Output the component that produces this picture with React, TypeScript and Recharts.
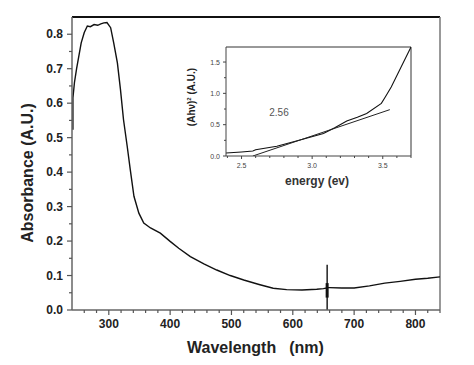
import { ComposedChart, LineChart, Line, XAxis, YAxis, ReferenceLine, Label } from "recharts";

const wavelength = [241.5, 241.5, 244, 247.5, 255, 260, 265, 270, 276, 282, 287, 292, 297, 303, 308, 314, 319, 324, 330, 335, 341, 349, 357, 368, 384, 400, 414, 433, 455, 476, 498, 520, 545, 568, 590, 615, 639, 650, 656, 656, 656, 656, 660, 680, 700, 725, 750, 775, 800, 820, 840];
const absorbance = [0.523, 0.615, 0.66, 0.7, 0.775, 0.805, 0.824, 0.822, 0.828, 0.826, 0.83, 0.833, 0.834, 0.819, 0.775, 0.717, 0.64, 0.552, 0.475, 0.407, 0.33, 0.281, 0.252, 0.238, 0.223, 0.199, 0.179, 0.155, 0.134, 0.116, 0.1, 0.087, 0.074, 0.063, 0.059, 0.058, 0.06, 0.062, 0.064, 0.131, 0.0, 0.065, 0.065, 0.064, 0.064, 0.07, 0.078, 0.083, 0.089, 0.092, 0.096];

const spikeWavelength = [656, 656];
const spikeAbsorbance = [0.036, 0.078];

const energy = [2.39, 2.5, 2.58, 2.6, 2.75, 2.94, 3.08, 3.16, 3.245, 3.32, 3.386, 3.49, 3.52, 3.56, 3.63, 3.7];
const ahv2 = [0.048, 0.065, 0.08, 0.1, 0.155, 0.27, 0.36, 0.45, 0.56, 0.62, 0.68, 0.84, 0.95, 1.1, 1.42, 1.74];

const fitEnergy = [2.58, 3.55];
const fitValue = [0.0, 0.74];

const mainXTicks = [260, 280, 300, 320, 340, 360, 380, 400, 420, 440, 460, 480, 500, 520, 540, 560, 580, 600, 620, 640, 660, 680, 700, 720, 740, 760, 780, 800, 820, 840];
const mainXLabels = [300, 400, 500, 600, 700, 800];
const mainYTicks = [0, 0.05, 0.1, 0.15, 0.2, 0.25, 0.3, 0.35, 0.4, 0.45, 0.5, 0.55, 0.6, 0.65, 0.7, 0.75, 0.8];
const mainYLabels = [0, 0.1, 0.2, 0.3, 0.4, 0.5, 0.6, 0.7, 0.8];

const insetXTicks = [2.4, 2.5, 2.6, 2.7, 2.8, 2.9, 3.0, 3.1, 3.2, 3.3, 3.4, 3.5, 3.6, 3.7];
const insetXLabels = [2.5, 3.0, 3.5];
const insetYTicks = [0, 0.25, 0.5, 0.75, 1.0, 1.25, 1.5];
const insetYLabels = [0, 0.5, 1.0, 1.5];

const spectrum = wavelength.map((w, i) => ({ x: w, y: absorbance[i] }));
const spike = spikeWavelength.map((w, i) => ({ x: w, y: spikeAbsorbance[i] }));
const tauc = energy.map((e, i) => ({ x: e, y: ahv2[i] }));
const fit = fitEnergy.map((e, i) => ({ x: e, y: fitValue[i] }));

const isIn = (list: number[], v: number) => list.some((t) => Math.abs(t - v) < 1e-6);

const FONT = "'Liberation Sans', Arial, sans-serif";

const MainXTick = ({ x, y, payload }: any) => {
    const major = isIn(mainXLabels, payload.value);
    return (
        <g>
            <line x1={x} x2={x} y1={y} y2={y + (major ? 5 : 3)} stroke="#555" strokeWidth={1.2} />
            {major && (
                <text x={x} y={y + 18} textAnchor="middle" fontSize={12} fontWeight="bold" fill="#222" fontFamily={FONT}>
                    {payload.value}
                </text>
            )}
        </g>
    );
};

const MainYTick = ({ x, y, payload }: any) => {
    const major = isIn(mainYLabels, payload.value);
    return (
        <g>
            <line x1={x} x2={x - (major ? 5 : 3)} y1={y} y2={y} stroke="#555" strokeWidth={1.2} />
            {major && (
                <text x={x - 9} y={y + 4} textAnchor="end" fontSize={12} fontWeight="bold" fill="#222" fontFamily={FONT}>
                    {payload.value.toFixed(1)}
                </text>
            )}
        </g>
    );
};

const InsetXTick = ({ x, y, payload }: any) => {
    const major = isIn(insetXLabels, payload.value);
    return (
        <g>
            <line x1={x} x2={x} y1={y} y2={y + (major ? 3 : 2)} stroke="#444" strokeWidth={1} />
            {major && (
                <text x={x} y={y + 12} textAnchor="middle" fontSize={7} fill="#444" fontFamily={FONT}>
                    {payload.value.toFixed(1)}
                </text>
            )}
        </g>
    );
};

const InsetYTick = ({ x, y, payload }: any) => {
    const major = isIn(insetYLabels, payload.value);
    return (
        <g>
            <line x1={x} x2={x - (major ? 3 : 2)} y1={y} y2={y} stroke="#444" strokeWidth={1} />
            {major && (
                <text x={x - 6} y={y + 2.5} textAnchor="end" fontSize={7} fill="#444" fontFamily={FONT}>
                    {payload.value.toFixed(1)}
                </text>
            )}
        </g>
    );
};

export default function App() {
    return (
        <div style={{ position: "absolute", left: 0, top: 0, width: 474, height: 365, background: "#fff", fontFamily: FONT }}>
            <ComposedChart width={474} height={365} data={spectrum} margin={{ top: 17, right: 34, bottom: 0, left: 0 }}>
                <XAxis
                    dataKey="x"
                    type="number"
                    domain={[240, 840]}
                    ticks={mainXTicks}
                    interval={0}
                    tick={MainXTick}
                    tickLine={false}
                    tickSize={0}
                    tickMargin={0}
                    height={55}
                    axisLine={{ stroke: "#666", strokeWidth: 1.5 }}
                    allowDataOverflow
                >
                    <Label
                        content={() => (
                            <text x={187} y={353} fontSize={16} fontWeight="bold" fill="#222" fontFamily={FONT}>
                                Wavelength
                                <tspan dx={13}>(nm)</tspan>
                            </text>
                        )}
                    />
                </XAxis>
                <YAxis
                    type="number"
                    domain={[0, 0.85]}
                    ticks={mainYTicks}
                    interval={0}
                    tick={MainYTick}
                    tickLine={false}
                    tickSize={0}
                    tickMargin={0}
                    width={72}
                    axisLine={{ stroke: "#666", strokeWidth: 1.5 }}
                    allowDataOverflow
                >
                    <Label
                        content={() => (
                            <text
                                x={33}
                                y={173}
                                transform="rotate(-90, 33, 173)"
                                textAnchor="middle"
                                fontSize={16}
                                fontWeight="bold"
                                fill="#222"
                                fontFamily={FONT}
                            >
                                Absorbance (A.U.)
                            </text>
                        )}
                    />
                </YAxis>
                <ReferenceLine y={0.85} stroke="#111" strokeWidth={2.2} />
                <ReferenceLine x={840} stroke="#777" strokeWidth={1.5} />
                <Line dataKey="y" type="linear" stroke="#111" strokeWidth={1.4} dot={false} isAnimationActive={false} />
                <Line data={spike} dataKey="y" type="linear" stroke="#111" strokeWidth={3} dot={false} isAnimationActive={false} />
            </ComposedChart>

            <div style={{ position: "absolute", left: 180, top: 40 }}>
                <LineChart width={240} height={160} margin={{ top: 7, right: 9, bottom: 0, left: 0 }}>
                    <XAxis
                        dataKey="x"
                        type="number"
                        domain={[2.39, 3.7]}
                        ticks={insetXTicks}
                        interval={0}
                        tick={InsetXTick}
                        tickLine={false}
                        tickSize={0}
                        tickMargin={0}
                        height={44}
                        axisLine={{ stroke: "#444", strokeWidth: 1 }}
                        allowDataOverflow
                    >
                        <Label
                            content={() => (
                                <g>
                                    <text x={137} y={145} textAnchor="middle" fontSize={12} fontWeight="bold" fill="#333" fontFamily={FONT}>
                                        energy (ev)
                                    </text>
                                    <text x={99} y={76} textAnchor="middle" fontSize={10} fill="#555" fontFamily={FONT}>
                                        2.56
                                    </text>
                                </g>
                            )}
                        />
                    </XAxis>
                    <YAxis
                        type="number"
                        domain={[0, 1.74]}
                        ticks={insetYTicks}
                        interval={0}
                        tick={InsetYTick}
                        tickLine={false}
                        tickSize={0}
                        tickMargin={0}
                        width={46}
                        axisLine={{ stroke: "#444", strokeWidth: 1 }}
                        allowDataOverflow
                    >
                        <Label
                            content={() => (
                                <text
                                    x={15}
                                    y={57}
                                    transform="rotate(-90, 15, 57)"
                                    textAnchor="middle"
                                    fontSize={10}
                                    fontWeight="bold"
                                    fill="#222"
                                    fontFamily={FONT}
                                >
                                    (Ahν)
                                    <tspan fontSize={6} dy={-4}>2</tspan>
                                    <tspan dy={4}> (A.U.)</tspan>
                                </text>
                            )}
                        />
                    </YAxis>
                    <ReferenceLine y={1.74} stroke="#333" strokeWidth={1} />
                    <ReferenceLine x={3.7} stroke="#333" strokeWidth={1} />
                    <Line data={tauc} dataKey="y" type="linear" stroke="#111" strokeWidth={1.1} dot={false} isAnimationActive={false} />
                    <Line data={fit} dataKey="y" type="linear" stroke="#222" strokeWidth={1} dot={false} isAnimationActive={false} />
                </LineChart>
            </div>
        </div>
    );
}
